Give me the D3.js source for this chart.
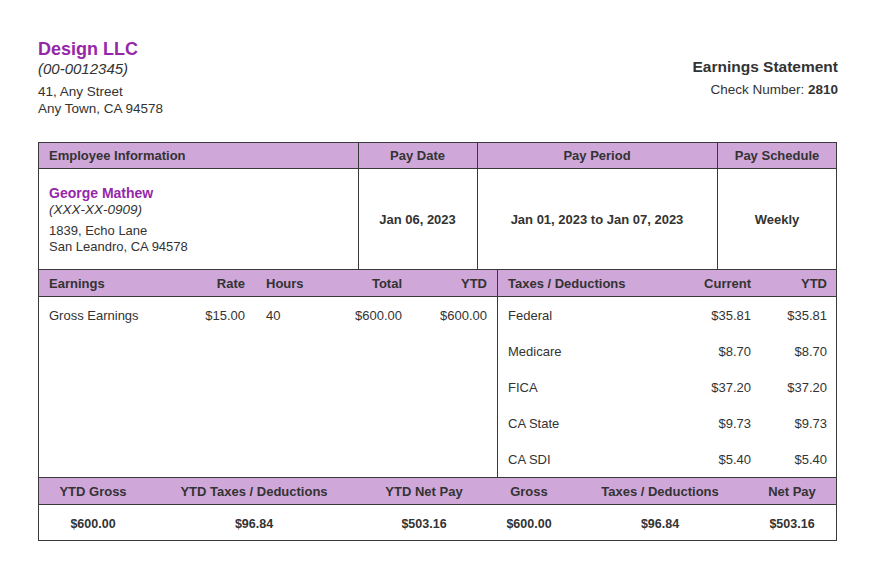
<!DOCTYPE html>
<html><head><meta charset="utf-8">
<script src="https://cdn.jsdelivr.net/npm/d3@7"></script>
<style>body{margin:0;background:#fff;font-family:"Liberation Sans",Arial,sans-serif}</style>
</head><body><svg id="stub" width="875" height="580"></svg>
<script>
// data
var companyLines = ["41, Any Street", "Any Town, CA 94578"];
var employeeLines = ["1839, Echo Lane", "San Leandro, CA 94578"];
var topHeaders = ["Employee Information", "Pay Date", "Pay Period", "Pay Schedule"];
var topValues = ["", "Jan 06, 2023", "Jan 01, 2023 to Jan 07, 2023", "Weekly"];
var earnHeaders = ["Earnings", "Rate", "Hours", "Total", "YTD"];
var earnRows = [["Gross Earnings", "$15.00", "40", "$600.00", "$600.00"]];
var taxHeaders = ["Taxes / Deductions", "Current", "YTD"];
var taxNames = ["Federal", "Medicare", "FICA", "CA State", "CA SDI"];
var taxCurrent = [35.81, 8.70, 37.20, 9.73, 5.40];
var taxYtd = [35.81, 8.70, 37.20, 9.73, 5.40];
var sumHeaders = ["YTD Gross", "YTD Taxes / Deductions", "YTD Net Pay", "Gross", "Taxes / Deductions", "Net Pay"];
var sumValues = ["$600.00", "$96.84", "$503.16", "$600.00", "$96.84", "$503.16"];

var svg = d3.select("#stub");
var purple = "#9527ab", fill = "#d0a7d9", ink = "#333", line = "#3a3a3a";
var money = d3.format("$,.2f");

function txt(x, y, s, o) {
    o = o || {};
    return svg.append("text").attr("x", x).attr("y", y).text(s)
        .attr("font-size", o.size || 13).attr("fill", o.color || ink)
        .attr("font-weight", o.bold ? "bold" : null)
        .attr("font-style", o.italic ? "italic" : null)
        .attr("text-anchor", o.anchor || "start");
}

// header block
txt(38, 55, "Design LLC", {size: 18, bold: true, color: purple});
txt(38, 74, "(00-0012345)", {size: 15, italic: true});
companyLines.forEach((s, i) => txt(38, 96 + i * 17, s, {size: 13.5}));
txt(838, 72, "Earnings Statement", {size: 15.5, bold: true, anchor: "end"});
var cn = txt(838, 94, "Check Number: ", {size: 13.5, anchor: "end"});
cn.append("tspan").attr("font-weight", "bold").text("2810");

// table bands
var L = 38, R = 837;
var bands = [[142, 168], [269, 296], [477, 504]];
bands.forEach(b => svg.append("rect").attr("x", L).attr("y", b[0]).attr("width", R - L).attr("height", b[1] - b[0]).attr("fill", fill));
svg.append("rect").attr("x", L + 0.5).attr("y", 142.5).attr("width", R - L - 1).attr("height", 541 - 142 - 1)
    .attr("fill", "none").attr("stroke", line);
[168, 269, 296, 477, 504].forEach(y => svg.append("line").attr("x1", L).attr("x2", R).attr("y1", y + 0.5).attr("y2", y + 0.5).attr("stroke", line));
var topCols = [38, 358, 477, 717, 837];
topCols.slice(1, 4).forEach(x => svg.append("line").attr("x1", x + 0.5).attr("x2", x + 0.5).attr("y1", 142).attr("y2", 269).attr("stroke", line));
svg.append("line").attr("x1", 497.5).attr("x2", 497.5).attr("y1", 269).attr("y2", 477).attr("stroke", line);

// top row
txt(49, 160, topHeaders[0], {bold: true});
for (var i = 1; i < 4; i++) {
    var cx = (topCols[i] + topCols[i + 1]) / 2;
    txt(cx, 160, topHeaders[i], {bold: true, anchor: "middle"});
    txt(cx, 224, topValues[i], {bold: true, anchor: "middle"});
}
txt(49, 198, "George Mathew", {size: 14, bold: true, color: purple});
txt(49, 214, "(XXX-XX-0909)", {size: 13.5, italic: true});
employeeLines.forEach((s, i) => txt(49, 235 + i * 16, s));

// earnings
var eX = [49, 245, 266, 402, 487], eA = ["start", "end", "start", "end", "end"];
earnHeaders.forEach((h, i) => txt(eX[i], 288, h, {bold: true, anchor: eA[i]}));
earnRows.forEach((r, j) => r.forEach((v, i) => txt(eX[i], 320 + j * 36, v, {anchor: eA[i]})));

// taxes
var tX = [508, 751, 827], tA = ["start", "end", "end"];
taxHeaders.forEach((h, i) => txt(tX[i], 288, h, {bold: true, anchor: tA[i]}));
var ty = d3.scaleBand().domain(taxNames).range([302, 482]);
taxNames.forEach((n, j) => {
    var y = ty(n) + 18;
    txt(tX[0], y, n);
    txt(tX[1], y, money(taxCurrent[j]), {anchor: "end"});
    txt(tX[2], y, money(taxYtd[j]), {anchor: "end"});
});

// summary
var sX = [93, 254, 424, 529, 660, 792];
sumHeaders.forEach((h, i) => {
    txt(sX[i], 496, h, {bold: true, anchor: "middle"});
    txt(sX[i], 528, sumValues[i], {bold: true, size: 12.5, anchor: "middle"});
});
</script></body></html>
